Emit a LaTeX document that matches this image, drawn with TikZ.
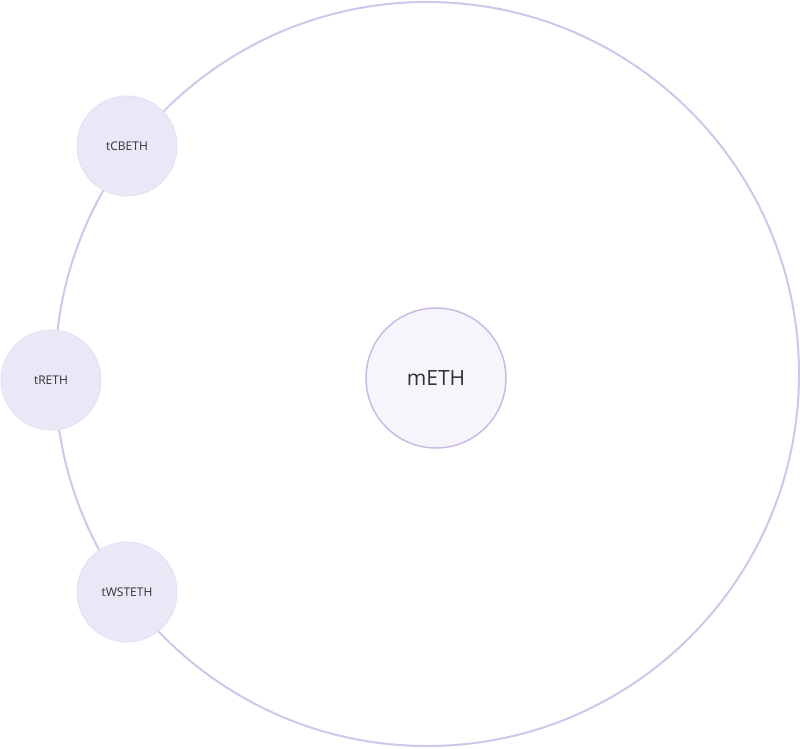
\documentclass[tikz,border=0pt]{standalone}
\usepackage{fontspec}
\setmainfont{Open Sans}
\definecolor{ring}{HTML}{D3C4EA}
\definecolor{core}{HTML}{F6F5FB}
\definecolor{coreline}{HTML}{CDB9E6}
\definecolor{sat}{HTML}{E9E8F7}
\definecolor{satline}{HTML}{E2E2F6}
\definecolor{txt}{HTML}{333333}
\begin{document}
\begin{tikzpicture}[x=1pt,y=-1pt,
  sat/.style={circle,minimum size=100pt,inner sep=0pt,fill=sat,draw=satline,line width=1pt,text=txt,font=\fontsize{12}{14}\selectfont},
  core/.style={circle,minimum size=140pt,inner sep=0pt,fill=core,draw=coreline,line width=1.5pt,text=txt,font=\fontsize{21}{25}\selectfont}]
\useasboundingbox (0,0) rectangle (800,749);
\draw[ring,line width=2pt] (427,374) circle (372);
\node[core] (m) at (436,378) {mETH};
\node[sat] (a) at (127,146) {tCBETH};
\node[sat] (b) at (51,380) {tRETH};
\node[sat] (c) at (127,592) {tWSTETH};
\end{tikzpicture}
\end{document}
